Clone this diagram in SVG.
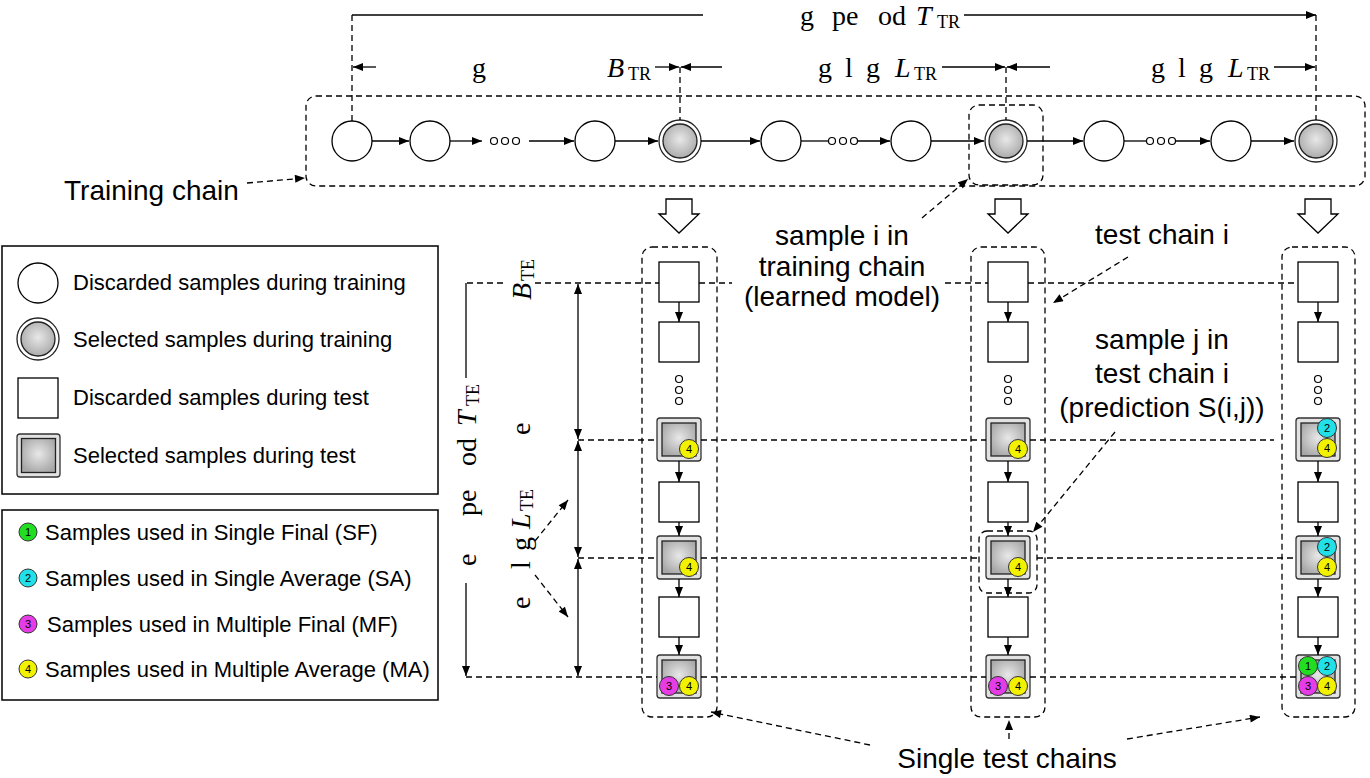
<svg xmlns="http://www.w3.org/2000/svg" width="1370" height="778" viewBox="0 0 1370 778">
<defs>
<radialGradient id="gg" cx="50%" cy="45%" r="60%"><stop offset="0" stop-color="#e8e8e8"/><stop offset="1" stop-color="#a6a6a6"/></radialGradient>
<marker id="ah" viewBox="0 0 10 8" refX="10" refY="4" markerWidth="11" markerHeight="8" markerUnits="userSpaceOnUse" orient="auto-start-reverse"><path d="M0,0L10,4L0,8z" fill="#000"/></marker>
<style>
.s{stroke:#000;stroke-width:1.3;fill:none}
.d{stroke:#000;stroke-width:1.3;fill:none;stroke-dasharray:6 4}
.a{marker-end:url(#ah)}
.a2{marker-start:url(#ah);marker-end:url(#ah)}
.c{fill:#fff;stroke:#000;stroke-width:1.3}
.so{fill:#fff;stroke:#222;stroke-width:1.3}
.si{fill:url(#gg);stroke:#222;stroke-width:1.3}
.sq{fill:#fff;stroke:#000;stroke-width:1.3}
.sqo{fill:#e2e2e2;stroke:#333;stroke-width:1.3}
.dot{fill:#fff;stroke:#000;stroke-width:1.2}
.ba{fill:#fff;stroke:#000;stroke-width:1.3}
.sans{font-family:"Liberation Sans",Arial,Helvetica,sans-serif;fill:#000}
.big{font-size:28px}
.leg{font-size:22px}
.ctr{text-anchor:middle}
.m{font-family:"Liberation Serif","Times New Roman",serif;font-size:28px;fill:#000}
.sub{font-size:18px;font-style:normal}
.it{font-style:italic}
.b1{fill:#22dd22;stroke:#333;stroke-width:1}
.b2{fill:#22e0e8;stroke:#333;stroke-width:1}
.b3{fill:#e63ce6;stroke:#333;stroke-width:1}
.b4{fill:#f2f200;stroke:#333;stroke-width:1}
.bn{font-family:"Liberation Sans",Arial,sans-serif;font-size:11px;text-anchor:middle;fill:#000}
</style>
</defs>
<rect width="1370" height="778" fill="#fff"/>

<!-- Legends -->
<g id="legend-samples">
<rect x="2" y="246" width="436" height="248" fill="#fff" stroke="#000" stroke-width="1.5"/>
<circle cx="38" cy="283" r="20" class="c"/>
<text x="73" y="290" class="sans leg">Discarded samples during training</text>
<circle cx="38" cy="339" r="21" class="so"/><circle cx="38" cy="339" r="17" class="si"/>
<text x="73" y="347" class="sans leg">Selected samples during training</text>
<rect x="18" y="378" width="40" height="40" class="sq"/>
<text x="73" y="405" class="sans leg">Discarded samples during test</text>
<rect x="17" y="434" width="43" height="43" rx="3" class="sqo"/><rect x="21.5" y="438.5" width="34" height="34" class="si"/>
<text x="73" y="463" class="sans leg">Selected samples during test</text>
</g>
<g id="legend-methods">
<rect x="2" y="510" width="436" height="190" fill="#fff" stroke="#000" stroke-width="1.5"/>
<circle cx="28" cy="532" r="9" class="b1"/><text x="28" y="536" class="bn" font-size="9">1</text>
<text x="45" y="540" class="sans leg">Samples used in Single Final (SF)</text>
<circle cx="28" cy="578" r="9" class="b2"/><text x="28" y="582" class="bn">2</text>
<text x="45" y="586" class="sans leg">Samples used in Single Average (SA)</text>
<circle cx="28" cy="624" r="9" class="b3"/><text x="28" y="628" class="bn">3</text>
<text x="47" y="632" class="sans leg">Samples used in Multiple Final (MF)</text>
<circle cx="28" cy="669" r="9" class="b4"/><text x="28" y="673" class="bn">4</text>
<text x="45" y="677" class="sans leg">Samples used in Multiple Average (MA)</text>
</g>

<!-- Training chain -->
<g id="training-chain">
<rect x="306" y="96" width="1059" height="90" rx="10" class="d"/>
<rect x="969" y="105" width="74" height="80" rx="10" class="d"/>
<circle cx="352" cy="141" r="20" class="c"/>
<circle cx="430" cy="141" r="20" class="c"/>
<circle cx="494" cy="141" r="3.5" class="dot"/><circle cx="505" cy="141" r="3.5" class="dot"/><circle cx="516" cy="141" r="3.5" class="dot"/>
<circle cx="595" cy="141" r="20" class="c"/>
<circle cx="680" cy="141" r="21" class="so"/><circle cx="680" cy="141" r="17" class="si"/>
<circle cx="781" cy="141" r="20" class="c"/>
<circle cx="832" cy="141" r="3.5" class="dot"/><circle cx="843" cy="141" r="3.5" class="dot"/><circle cx="854" cy="141" r="3.5" class="dot"/>
<circle cx="911" cy="141" r="20" class="c"/>
<circle cx="1006" cy="141" r="21" class="so"/><circle cx="1006" cy="141" r="17" class="si"/>
<circle cx="1104" cy="141" r="20" class="c"/>
<circle cx="1150" cy="141" r="3.5" class="dot"/><circle cx="1161" cy="141" r="3.5" class="dot"/><circle cx="1172" cy="141" r="3.5" class="dot"/>
<circle cx="1231" cy="141" r="20" class="c"/>
<circle cx="1316" cy="141" r="21" class="so"/><circle cx="1316" cy="141" r="17" class="si"/>
</g>

<!-- Test chains -->
<g id="test-chain-1">
<polygon points="666,199 692,199 692,214 699,214 679,233 659,214 666,214" class="ba"/>
<rect x="642" y="247" width="75" height="470" rx="10" class="d"/>
<rect x="659" y="262" width="40" height="40" class="sq"/>
<rect x="659" y="322" width="40" height="40" class="sq"/>
<circle cx="679" cy="379" r="3.5" class="dot"/><circle cx="679" cy="390" r="3.5" class="dot"/><circle cx="679" cy="401" r="3.5" class="dot"/>
<rect x="657" y="418" width="44" height="43" rx="3" class="sqo"/><rect x="662" y="423" width="34" height="33" class="si"/>
<rect x="659" y="482" width="40" height="40" class="sq"/>
<rect x="657" y="536" width="44" height="43" rx="3" class="sqo"/><rect x="662" y="541" width="34" height="33" class="si"/>
<rect x="659" y="597" width="40" height="40" class="sq"/>
<rect x="657" y="655" width="44" height="43" rx="3" class="sqo"/><rect x="662" y="660" width="34" height="33" class="si"/>
<circle cx="689" cy="449" r="9.5" class="b4"/><text x="689" y="453" class="bn">4</text>
<circle cx="689" cy="567" r="9.5" class="b4"/><text x="689" y="571" class="bn">4</text>
<circle cx="669" cy="686" r="9.5" class="b3"/><text x="669" y="690" class="bn">3</text>
<circle cx="689" cy="686" r="9.5" class="b4"/><text x="689" y="690" class="bn">4</text>
</g>
<g id="test-chain-2">
<polygon points="995,199 1021,199 1021,214 1028,214 1008,233 988,214 995,214" class="ba"/>
<rect x="971" y="247" width="74" height="470" rx="10" class="d"/>
<rect x="979" y="531" width="58" height="62" rx="8" class="d"/>
<rect x="988" y="262" width="40" height="40" class="sq"/>
<rect x="988" y="322" width="40" height="40" class="sq"/>
<circle cx="1008" cy="379" r="3.5" class="dot"/><circle cx="1008" cy="390" r="3.5" class="dot"/><circle cx="1008" cy="401" r="3.5" class="dot"/>
<rect x="986" y="418" width="44" height="43" rx="3" class="sqo"/><rect x="991" y="423" width="34" height="33" class="si"/>
<rect x="988" y="482" width="40" height="40" class="sq"/>
<rect x="986" y="536" width="44" height="43" rx="3" class="sqo"/><rect x="991" y="541" width="34" height="33" class="si"/>
<rect x="988" y="597" width="40" height="40" class="sq"/>
<rect x="986" y="655" width="44" height="43" rx="3" class="sqo"/><rect x="991" y="660" width="34" height="33" class="si"/>
<circle cx="1018" cy="449" r="9.5" class="b4"/><text x="1018" y="453" class="bn">4</text>
<circle cx="1018" cy="567" r="9.5" class="b4"/><text x="1018" y="571" class="bn">4</text>
<circle cx="998" cy="686" r="9.5" class="b3"/><text x="998" y="690" class="bn">3</text>
<circle cx="1018" cy="686" r="9.5" class="b4"/><text x="1018" y="690" class="bn">4</text>
</g>
<g id="test-chain-3">
<polygon points="1305,199 1331,199 1331,214 1338,214 1318,233 1298,214 1305,214" class="ba"/>
<rect x="1282" y="247" width="73" height="470" rx="10" class="d"/>
<rect x="1298" y="262" width="40" height="40" class="sq"/>
<rect x="1298" y="322" width="40" height="40" class="sq"/>
<circle cx="1318" cy="379" r="3.5" class="dot"/><circle cx="1318" cy="390" r="3.5" class="dot"/><circle cx="1318" cy="401" r="3.5" class="dot"/>
<rect x="1296" y="418" width="44" height="43" rx="3" class="sqo"/><rect x="1301" y="423" width="34" height="33" class="si"/>
<rect x="1298" y="482" width="40" height="40" class="sq"/>
<rect x="1296" y="536" width="44" height="43" rx="3" class="sqo"/><rect x="1301" y="541" width="34" height="33" class="si"/>
<rect x="1298" y="597" width="40" height="40" class="sq"/>
<rect x="1296" y="655" width="44" height="43" rx="3" class="sqo"/><rect x="1301" y="660" width="34" height="33" class="si"/>
<circle cx="1327" cy="428" r="9.5" class="b2"/><text x="1327" y="432" class="bn">2</text>
<circle cx="1327" cy="448" r="9.5" class="b4"/><text x="1327" y="452" class="bn">4</text>
<circle cx="1327" cy="547" r="9.5" class="b2"/><text x="1327" y="551" class="bn">2</text>
<circle cx="1327" cy="567" r="9.5" class="b4"/><text x="1327" y="571" class="bn">4</text>
<circle cx="1308" cy="666" r="9.5" class="b1"/><text x="1308" y="670" class="bn">1</text>
<circle cx="1327" cy="666" r="9.5" class="b2"/><text x="1327" y="670" class="bn">2</text>
<circle cx="1308" cy="686" r="9.5" class="b3"/><text x="1308" y="690" class="bn">3</text>
<circle cx="1327" cy="686" r="9.5" class="b4"/><text x="1327" y="690" class="bn">4</text>
</g>

<!-- Connectors -->
<g id="connectors">
<line x1="372" y1="141" x2="409" y2="141" class="s a"/>
<line x1="450" y1="141" x2="482" y2="141" class="s a"/>
<line x1="529" y1="141" x2="574" y2="141" class="s a"/>
<line x1="615" y1="141" x2="658" y2="141" class="s a"/>
<line x1="701" y1="141" x2="760" y2="141" class="s a"/>
<line x1="801" y1="141" x2="828.5" y2="141" class="s"/>
<line x1="857.5" y1="141" x2="890" y2="141" class="s a"/>
<line x1="931" y1="141" x2="984" y2="141" class="s a"/>
<line x1="1027" y1="141" x2="1083" y2="141" class="s a"/>
<line x1="1124" y1="141" x2="1146.5" y2="141" class="s"/>
<line x1="1175.5" y1="141" x2="1210" y2="141" class="s a"/>
<line x1="1251" y1="141" x2="1294" y2="141" class="s a"/>
<g class="s a">
<line x1="679" y1="302" x2="679" y2="322"/><line x1="679" y1="461" x2="679" y2="482"/><line x1="679" y1="522" x2="679" y2="536"/><line x1="679" y1="579" x2="679" y2="597"/><line x1="679" y1="637" x2="679" y2="655"/>
<line x1="1008" y1="302" x2="1008" y2="322"/><line x1="1008" y1="461" x2="1008" y2="482"/><line x1="1008" y1="522" x2="1008" y2="536"/><line x1="1008" y1="579" x2="1008" y2="597"/><line x1="1008" y1="637" x2="1008" y2="655"/>
<line x1="1318" y1="302" x2="1318" y2="322"/><line x1="1318" y1="461" x2="1318" y2="482"/><line x1="1318" y1="522" x2="1318" y2="536"/><line x1="1318" y1="579" x2="1318" y2="597"/><line x1="1318" y1="637" x2="1318" y2="655"/>
</g>
<line x1="352" y1="15" x2="703" y2="15" class="s"/>
<line x1="964" y1="15" x2="1316" y2="15" class="s a"/>
<line x1="352" y1="15" x2="352" y2="121" class="d"/>
<line x1="1316" y1="15" x2="1316" y2="120" class="d"/>
<line x1="680" y1="67" x2="680" y2="120" class="d"/>
<line x1="1006" y1="67" x2="1006" y2="120" class="d"/>
<line x1="376" y1="67" x2="353" y2="67" class="s a"/>
<line x1="655" y1="67" x2="679" y2="67" class="s a"/>
<line x1="722" y1="67" x2="681" y2="67" class="s a"/>
<line x1="942" y1="67" x2="1005" y2="67" class="s a"/>
<line x1="1050" y1="67" x2="1007" y2="67" class="s a"/>
<line x1="1274" y1="67" x2="1315" y2="67" class="s a"/>
<line x1="467" y1="283" x2="507" y2="283" class="d"/>
<line x1="535" y1="283" x2="659" y2="283" class="d"/>
<line x1="699" y1="283" x2="732" y2="283" class="d"/>
<line x1="945" y1="283" x2="988" y2="283" class="d"/>
<line x1="1028" y1="283" x2="1298" y2="283" class="d"/>
<line x1="578" y1="440" x2="657" y2="440" class="d"/>
<line x1="701" y1="440" x2="986" y2="440" class="d"/>
<line x1="1030" y1="440" x2="1274" y2="440" class="d"/>
<line x1="578" y1="558" x2="657" y2="558" class="d"/>
<line x1="701" y1="558" x2="979" y2="558" class="d"/>
<line x1="1037" y1="558" x2="1296" y2="558" class="d"/>
<line x1="466" y1="677" x2="657" y2="677" class="d"/>
<line x1="701" y1="677" x2="986" y2="677" class="d"/>
<line x1="1030" y1="677" x2="1296" y2="677" class="d"/>
<line x1="466" y1="283" x2="466" y2="378" class="s"/>
<line x1="466" y1="583" x2="466" y2="676" class="s a"/>
<line x1="578" y1="284" x2="578" y2="439" class="s a2"/>
<line x1="578" y1="441" x2="578" y2="557" class="s a2"/>
<line x1="578" y1="559" x2="578" y2="676" class="s a2"/>
<line x1="535" y1="541" x2="568" y2="500" class="d a"/>
<line x1="535" y1="575" x2="568" y2="617" class="d a"/>
<line x1="247" y1="183" x2="305" y2="178" class="d a"/>
<line x1="922" y1="218" x2="968" y2="179" class="d a"/>
<line x1="1128" y1="257" x2="1053" y2="303" class="d a"/>
<line x1="1115" y1="432" x2="1033" y2="532" class="d a"/>
<line x1="870" y1="745" x2="711" y2="712" class="d a"/>
<line x1="1009" y1="739" x2="1009" y2="720" class="d a"/>
<line x1="1127" y1="739" x2="1260" y2="717" class="d a"/>
</g>

<!-- Labels -->
<g id="labels">
<text x="64" y="200" class="sans big">Training chain</text>
<text x="842" y="245" class="sans big ctr">sample i in</text>
<text x="842" y="276" class="sans big ctr">training chain</text>
<text x="842" y="306" class="sans big ctr">(learned model)</text>
<text x="1162" y="244" class="sans big ctr">test chain i</text>
<text x="1162" y="349" class="sans big ctr">sample j in</text>
<text x="1162" y="383" class="sans big ctr">test chain i</text>
<text x="1162" y="417" class="sans big ctr">(prediction S(i,j))</text>
<text x="1007" y="768" class="sans big ctr">Single test chains</text>

<text y="25" class="m"><tspan x="800">g</tspan><tspan x="832">pe</tspan><tspan x="878">od</tspan><tspan x="916" class="it">T</tspan><tspan x="937" dy="3" class="sub">TR</tspan></text>
<text x="472" y="77" class="m">g</text>
<text y="77" class="m"><tspan x="607" class="it">B</tspan><tspan x="628" dy="3" class="sub">TR</tspan></text>
<text y="77" class="m"><tspan x="818">g</tspan><tspan x="845">l</tspan><tspan x="866">g</tspan><tspan x="895" class="it">L</tspan><tspan x="914" dy="3" class="sub">TR</tspan></text>
<text y="77" class="m"><tspan x="1151">g</tspan><tspan x="1178">l</tspan><tspan x="1199">g</tspan><tspan x="1228" class="it">L</tspan><tspan x="1247" dy="3" class="sub">TR</tspan></text>

<text transform="translate(531,300) rotate(-90)" class="m"><tspan x="0" class="it">B</tspan><tspan x="19" dy="3" class="sub">TE</tspan></text>
<text transform="translate(530,435) rotate(-90)" class="m">e</text>
<text transform="translate(530,609) rotate(-90)" class="m"><tspan x="0">e</tspan><tspan x="40">l</tspan><tspan x="58">g</tspan><tspan x="80" class="it">L</tspan><tspan x="98" dy="3" class="sub">TE</tspan></text>
<text transform="translate(476,566) rotate(-90)" class="m"><tspan x="0">e</tspan><tspan x="50">pe</tspan><tspan x="100">od</tspan><tspan x="140" class="it">T</tspan><tspan x="160" dy="3" class="sub">TE</tspan></text>
</g>
</svg>
